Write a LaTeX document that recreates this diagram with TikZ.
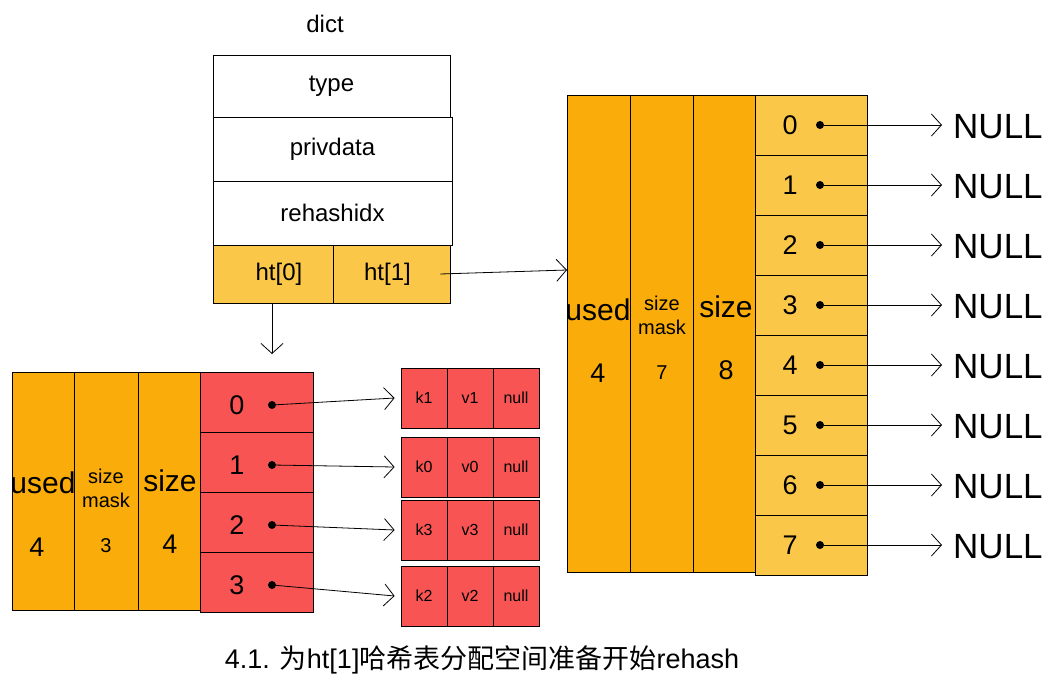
\documentclass[tikz,border=0pt]{standalone}
\usepackage{fontspec}
\usetikzlibrary{arrows.meta}
\setmainfont{Liberation Sans}
\newfontfamily\cjk{Noto Sans CJK SC}
\begin{document}
\begin{tikzpicture}[x=1pt,y=-1pt,
  cell/.style={draw=black,line width=0.8pt,minimum width=#1,inner sep=0pt},
  arr/.style={-{Straight Barb[length=10pt,width=22pt]},line width=0.8pt},
  dot/.style={circle,fill=black,inner sep=0pt,minimum size=8pt}]
\useasboundingbox (0,0) rectangle (1055,685);
\definecolor{lor}{HTML}{FAC748}
\definecolor{dor}{HTML}{F9AC0A}
\definecolor{rd}{HTML}{F85454}
\node[font=\fontsize{24}{26}\selectfont] (dt) at (325,24) {dict};
\node[cell=237pt,minimum height=62pt,font=\fontsize{24}{26}\selectfont] (type) at (331.5,86) {type};
\node[cell=239pt,minimum height=64pt,font=\fontsize{24}{26}\selectfont] (priv) at (332.5,149) {privdata};
\node[cell=239pt,minimum height=64pt,font=\fontsize{24}{26}\selectfont] (reh) at (332.5,213) {rehashidx};
\node[cell=120pt,minimum height=58pt,fill=lor,font=\fontsize{24}{26}\selectfont] (h0) at (273,274) {\hspace*{12pt}ht[0]};
\node[cell=117pt,minimum height=58pt,fill=lor,font=\fontsize{24}{26}\selectfont] (h1) at (391.5,274) {\hspace*{-8pt}ht[1]};
% right table
\draw[line width=0.8pt,fill=dor] (567,95) rectangle (630,572);
\draw[line width=0.8pt,fill=dor] (630,95) rectangle (693,572);
\draw[line width=0.8pt,fill=dor] (693,95) rectangle (755,572);
\node[font=\fontsize{30}{32}\selectfont] (ru) at (598,310) {used};
\node[font=\fontsize{27}{29}\selectfont] (ru4) at (598,373) {4};
\node[align=center,font=\fontsize{20}{24}\selectfont] (rs) at (662,315) {size\\mask};
\node[font=\fontsize{20}{22}\selectfont] (rs7) at (662,373) {7};
\node[font=\fontsize{30}{32}\selectfont] (rz) at (726,307) {size};
\node[font=\fontsize{27}{29}\selectfont] (rz8) at (726,370) {8};
\coordinate (rt) at (567,270);
\foreach \i in {0,...,7}{
  \pgfmathsetmacro\yy{95+60*\i}
  \draw[line width=0.8pt,fill=lor] (755,\yy) rectangle (867,\yy+60);
  \node[font=\fontsize{27}{29}\selectfont] (rl\i) at (790,\yy+30) {\i};
  \node[dot] (rd\i) at (820,\yy+30) {};
  \node[font=\fontsize{35}{37}\selectfont,anchor=west,inner sep=1pt] (rn\i) at (952,\yy+32) {NULL};
  \draw[arr] (rd\i) -- ++(122,0) coordinate (re\i);
}
\draw[arr] (h1.east) ++(-10pt,0) coordinate (h1s) -- (rt);
% left table
\draw[line width=0.8pt,fill=dor] (12,372) rectangle (74,610);
\draw[line width=0.8pt,fill=dor] (74,372) rectangle (138,610);
\draw[line width=0.8pt,fill=dor] (138,372) rectangle (200,610);
\node[font=\fontsize{30}{32}\selectfont] (lu) at (43,483) {used};
\node[font=\fontsize{27}{29}\selectfont] (lu4) at (37,547) {4};
\node[align=center,font=\fontsize{20}{24}\selectfont] (ls) at (106,488) {size\\mask};
\node[font=\fontsize{20}{22}\selectfont] (ls3) at (106,546) {3};
\node[font=\fontsize{30}{32}\selectfont] (lz) at (170,481) {size};
\node[font=\fontsize{27}{29}\selectfont] (lz4) at (170,544) {4};
\coordinate (lt) at (272,354);
\draw[arr] (272,303) -- (lt);
\foreach \i/\k/\v/\ey in {0/k1/v1/398,1/k0/v0/467,2/k3/v3/530,3/k2/v2/596}{
  \pgfmathsetmacro\yy{372+60*\i}
  \draw[line width=0.8pt,fill=rd] (200,\yy) rectangle (313,\yy+60);
  \node[font=\fontsize{27}{29}\selectfont] (ll\i) at (237,\yy+33) {\i};
  \node[dot] (ld\i) at (272,\yy+33) {};
  \node[cell=46pt,minimum height=60pt,fill=rd,font=\fontsize{16}{18}\selectfont] (ek\i) at (424,\ey) {\k};
  \node[cell=46pt,minimum height=60pt,fill=rd,font=\fontsize{16}{18}\selectfont] (ev\i) at (470,\ey) {\v};
  \node[cell=46pt,minimum height=60pt,fill=rd,font=\fontsize{16}{18}\selectfont] (en\i) at (516,\ey) {null};
  \draw[arr] (ld\i) -- ([xshift=-6pt]ek\i.west);
}
\node[font=\fontsize{27}{29}\selectfont] (cap) at (482,660) {4.1. {\cjk 为}ht[1]{\cjk 哈希表分配空间准备开始}rehash};
\end{tikzpicture}
\end{document}
